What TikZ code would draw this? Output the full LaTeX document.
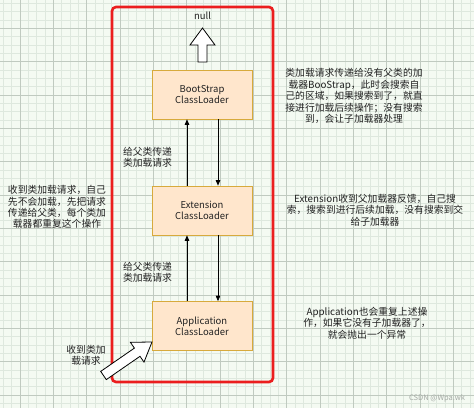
\documentclass[tikz,border=0pt]{standalone}
\usepackage{fontspec}
\setmainfont{Noto Sans CJK SC}
\usetikzlibrary{arrows.meta}
\definecolor{bgc}{RGB}{244,250,242}
\definecolor{minorc}{RGB}{222,232,222}
\definecolor{majorc}{RGB}{192,202,192}
\definecolor{boxfill}{RGB}{255,230,204}
\definecolor{boxdraw}{RGB}{215,170,60}
\definecolor{txt}{RGB}{34,34,34}
\definecolor{redc}{RGB}{235,30,30}
\tikzset{
  loader/.style={draw=boxdraw, fill=boxfill, line width=0.7pt, minimum width=100pt, minimum height=49pt, align=center, font=\fontsize{9.5}{10.7}\selectfont, text=txt, inner sep=0pt},
  note/.style={align=center, font=\fontsize{9.8}{11.4}\selectfont, text=txt, inner sep=0pt},
  flow/.style={-{Triangle[length=5.5pt,width=4.5pt]}, line width=0.7pt, black},
  blockarrow/.style={draw=black, fill=white, line width=0.8pt, line join=miter}
}
\begin{document}
\begin{tikzpicture}[x=1pt,y=-1pt]
\fill[bgc] (0,0) rectangle (474,408);
\useasboundingbox (0,0) rectangle (474,408);
% grid
\foreach \i in {0,...,56} {\draw[minorc, line width=0.5pt] ({3.333+8.3333*\i},0) -- ++(0,408);}
\foreach \i in {0,...,48} {\draw[minorc, line width=0.5pt] (0,{3.333+8.3333*\i}) -- ++(474,0);}
\foreach \i in {0,...,13} {\draw[majorc, line width=0.6pt] ({20+33.333*\i},0) -- ++(0,408);}
\foreach \i in {0,...,11} {\draw[majorc, line width=0.6pt] (0,{28.333+33.333*\i}) -- ++(474,0);}
% red frame
\draw[redc, line width=2.6pt, rounded corners=4pt] (112,7) rectangle (273,382);
% loaders
\node[loader] (boot) at (202,94.5) {BootStrap\\ClassLoader};
\node[loader] (ext) at (202,210.5) {Extension\\ClassLoader};
\node[loader] (app) at (202,326) {Application\\ClassLoader};
% arrows
\draw[flow] ([xshift=-15pt]ext.north) -- ([xshift=-15pt]boot.south);
\draw[flow] ([xshift=16pt]boot.south) -- ([xshift=16pt]ext.north);
\draw[flow] ([xshift=-15pt]app.north) -- ([xshift=-15pt]ext.south);
\draw[flow] ([xshift=16pt]ext.south) -- ([xshift=16pt]app.north);
% null
\node[note, font=\fontsize{9.5}{11}\selectfont] (null) at (202.5,16) {null};
\draw[blockarrow] (202.5,28) -- (215,45) -- (207,45) -- (207,62) -- (198,62) -- (198,45) -- (190,45) -- cycle;
% labels
\node[note] (l1) at (147.5,157.5) {给父类传递\\类加载请求};
\node[note] (l2) at (147.5,272.5) {给父类传递\\类加载请求};
\node[note] (left) at (57,207) {收到类加载请求，自己\\先不会加载，先把请求\\传递给父类，每个类加\\载器都重复这个操作};
\node[note] (r1) at (354,96) {类加载请求传递给没有父类的加\\载器BooStrap，此时会搜索自\\己的区域，如果搜索到了，就直\\接进行加载后续操作；没有搜索\\到，会让子加载器处理};
\node[note] (r2) at (375,210) {Extension收到父加载器反馈，自己搜\\索，搜索到进行后续加载，没有搜索到交\\给子加载器};
\node[note] (r3) at (367,323) {Application也会重复上述操\\作，如果它没有子加载器了，\\就会抛出一个异常};
\node[note] (req) at (86,355.5) {收到类加\\载请求};
% incoming block arrow
\draw[blockarrow] (100.7,371.4) -- (134.4,348.1) -- (130.4,342.3) -- (152,342) -- (144.0,362.1) -- (140.0,356.3) -- (106.3,379.6) -- cycle;
% watermark
\node[note, font=\fontsize{7.5}{9}\selectfont, text={rgb,255:red,165;green,170;blue,165}] (wm) at (437,398) {CSDN @Wpa.wk};
\end{tikzpicture}
\end{document}
